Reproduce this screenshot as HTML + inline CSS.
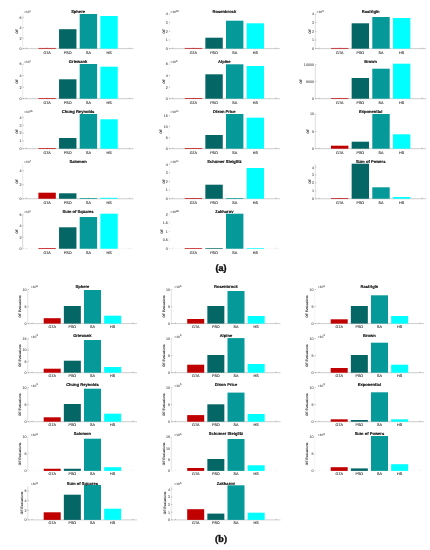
<!DOCTYPE html>
<html><head><meta charset="utf-8"><title>Figure</title>
<style>
html,body{margin:0;padding:0;background:#fff;}
body{width:430px;height:550px;overflow:hidden;position:relative;}
svg{position:absolute;left:0;top:0;display:block;}
svg{text-rendering:geometricPrecision;}
svg text{font-family:"Liberation Sans",sans-serif;font-size:3.7px;fill:#262626;stroke:#262626;stroke-width:0.1px;}
svg text.tk{text-anchor:end;font-size:3.7px;fill:#3a3a3a;stroke:#3a3a3a;stroke-width:0.04px;}
svg text.ex{font-size:3.3px;fill:#3a3a3a;stroke:#3a3a3a;stroke-width:0.04px;}
svg text.ti{text-anchor:middle;font-weight:bold;font-size:4.1px;fill:#000;stroke:#000;stroke-width:0.1px;}
svg text.yl{text-anchor:middle;}
svg text.xl{text-anchor:middle;}
svg text.cap{text-anchor:middle;stroke:#111;stroke-width:0.4px;font-family:"Liberation Serif",serif;font-weight:bold;font-size:9px;fill:#111;}
</style></head><body>
<svg width="430" height="550" viewBox="0 0 430 550">
<rect width="430" height="550" fill="#fff"/>
<g><path d="M22.7 14.05V48.65" fill="none" stroke="#cfcfcf" stroke-width="0.4"/><path d="M22.7 48.65H133.5" fill="none" stroke="#808080" stroke-width="0.4"/><path d="M22.7 48.65h1.1M22.7 38.25h1.1M22.7 27.85h1.1M22.7 17.45h1.1M26.45 48.65v-1.1M47.1 48.65v-1.1M67.75 48.65v-1.1M88.4 48.65v-1.1M109.05 48.65v-1.1M129.7 48.65v-1.1" fill="none" stroke="#555" stroke-width="0.35"/><rect x="38.4" y="47.95" width="17.4" height="0.7" fill="#c00000"/><rect x="59.05" y="29.2" width="17.4" height="19.45" fill="#056666"/><rect x="79.7" y="14" width="17.4" height="34.65" fill="#059999"/><rect x="100.35" y="16" width="17.4" height="32.65" fill="#00ffff"/><text x="47.1" y="54" class="xl">GTA</text><text x="67.75" y="54" class="xl">PSO</text><text x="88.4" y="54" class="xl">SA</text><text x="109.05" y="54" class="xl">HS</text><text x="21.5" y="50" class="tk">0</text><text x="21.5" y="39.6" class="tk">2</text><text x="21.5" y="29.2" class="tk">4</text><text x="21.5" y="18.8" class="tk">6</text><text x="24" y="12.85" class="ex">×10<tspan dy="-1.2" style="font-size:2.6px">7</tspan></text><text x="78.08" y="13" class="ti">Sphere</text><text transform="translate(18.2 31.35) rotate(-90)" class="yl" style="font-size:3.3px">OF</text></g>
<g><path d="M169 14.05V48.65" fill="none" stroke="#ececec" stroke-width="0.4"/><path d="M169 48.65H279.8" fill="none" stroke="#808080" stroke-width="0.4"/><path d="M169 48.65h1.1M169 40h1.1M169 31.35h1.1M169 22.7h1.1M169 14.05h1.1M172.75 48.65v-1.1M193.4 48.65v-1.1M214.05 48.65v-1.1M234.7 48.65v-1.1M255.35 48.65v-1.1M276 48.65v-1.1" fill="none" stroke="#555" stroke-width="0.35"/><rect x="184.7" y="47.95" width="17.4" height="0.7" fill="#c00000"/><rect x="205.35" y="37.7" width="17.4" height="10.95" fill="#056666"/><rect x="226" y="20.7" width="17.4" height="27.95" fill="#059999"/><rect x="246.65" y="23.3" width="17.4" height="25.35" fill="#00ffff"/><text x="193.4" y="54" class="xl">GTA</text><text x="214.05" y="54" class="xl">PSO</text><text x="234.7" y="54" class="xl">SA</text><text x="255.35" y="54" class="xl">HS</text><text x="167.8" y="50" class="tk">0</text><text x="167.8" y="41.35" class="tk">1</text><text x="167.8" y="32.7" class="tk">2</text><text x="167.8" y="24.05" class="tk">3</text><text x="167.8" y="15.4" class="tk">4</text><text x="170.3" y="12.85" class="ex">×10<tspan dy="-1.2" style="font-size:2.6px">23</tspan></text><text x="224.38" y="13" class="ti">Rosenbrock</text><text transform="translate(164.5 31.35) rotate(-90)" class="yl" style="font-size:3.3px">OF</text></g>
<g><path d="M315.3 14.05V48.65" fill="none" stroke="#acacac" stroke-width="0.4"/><path d="M315.3 48.65H426.1" fill="none" stroke="#808080" stroke-width="0.4"/><path d="M315.3 48.65h1.1M315.3 40h1.1M315.3 31.35h1.1M315.3 22.7h1.1M315.3 14.05h1.1M319.05 48.65v-1.1M339.7 48.65v-1.1M360.35 48.65v-1.1M381 48.65v-1.1M401.65 48.65v-1.1M422.3 48.65v-1.1" fill="none" stroke="#555" stroke-width="0.35"/><rect x="331" y="47.95" width="17.4" height="0.7" fill="#c00000"/><rect x="351.65" y="23.3" width="17.4" height="25.35" fill="#056666"/><rect x="372.3" y="17" width="17.4" height="31.65" fill="#059999"/><rect x="392.95" y="18" width="17.4" height="30.65" fill="#00ffff"/><text x="339.7" y="54" class="xl">GTA</text><text x="360.35" y="54" class="xl">PSO</text><text x="381" y="54" class="xl">SA</text><text x="401.65" y="54" class="xl">HS</text><text x="314.1" y="50" class="tk">0</text><text x="314.1" y="41.35" class="tk">1</text><text x="314.1" y="32.7" class="tk">2</text><text x="314.1" y="24.05" class="tk">3</text><text x="314.1" y="15.4" class="tk">4</text><text x="316.6" y="12.85" class="ex">×10<tspan dy="-1.2" style="font-size:2.6px">5</tspan></text><text x="370.68" y="13" class="ti">Rastrigin</text><text transform="translate(310.8 31.35) rotate(-90)" class="yl" style="font-size:3.3px">OF</text></g>
<g><path d="M22.7 64.1V98.7" fill="none" stroke="#cfcfcf" stroke-width="0.4"/><path d="M22.7 98.7H133.5" fill="none" stroke="#808080" stroke-width="0.4"/><path d="M22.7 98.7h1.1M22.7 87.15h1.1M22.7 75.6h1.1M22.7 64.1h1.1M26.45 98.7v-1.1M47.1 98.7v-1.1M67.75 98.7v-1.1M88.4 98.7v-1.1M109.05 98.7v-1.1M129.7 98.7v-1.1" fill="none" stroke="#555" stroke-width="0.35"/><rect x="38.4" y="98" width="17.4" height="0.7" fill="#c00000"/><rect x="59.05" y="79.3" width="17.4" height="19.4" fill="#056666"/><rect x="79.7" y="64" width="17.4" height="34.7" fill="#059999"/><rect x="100.35" y="66.7" width="17.4" height="32" fill="#00ffff"/><text x="47.1" y="104" class="xl">GTA</text><text x="67.75" y="104" class="xl">PSO</text><text x="88.4" y="104" class="xl">SA</text><text x="109.05" y="104" class="xl">HS</text><text x="21.5" y="100.05" class="tk">0</text><text x="21.5" y="88.5" class="tk">2</text><text x="21.5" y="76.95" class="tk">4</text><text x="21.5" y="65.45" class="tk">6</text><text x="24" y="62.9" class="ex">×10<tspan dy="-1.2" style="font-size:2.6px">7</tspan></text><text x="78.08" y="63" class="ti">Griewank</text><text transform="translate(18.2 81.4) rotate(-90)" class="yl" style="font-size:3.3px">OF</text></g>
<g><path d="M169 64.1V98.7" fill="none" stroke="#ececec" stroke-width="0.4"/><path d="M169 98.7H279.8" fill="none" stroke="#808080" stroke-width="0.4"/><path d="M169 98.7h1.1M169 87.15h1.1M169 75.6h1.1M169 64.1h1.1M172.75 98.7v-1.1M193.4 98.7v-1.1M214.05 98.7v-1.1M234.7 98.7v-1.1M255.35 98.7v-1.1M276 98.7v-1.1" fill="none" stroke="#555" stroke-width="0.35"/><rect x="184.7" y="98" width="17.4" height="0.7" fill="#c00000"/><rect x="205.35" y="74.3" width="17.4" height="24.4" fill="#056666"/><rect x="226" y="64.3" width="17.4" height="34.4" fill="#059999"/><rect x="246.65" y="66" width="17.4" height="32.7" fill="#00ffff"/><text x="193.4" y="104" class="xl">GTA</text><text x="214.05" y="104" class="xl">PSO</text><text x="234.7" y="104" class="xl">SA</text><text x="255.35" y="104" class="xl">HS</text><text x="167.8" y="100.05" class="tk">0</text><text x="167.8" y="88.5" class="tk">2</text><text x="167.8" y="76.95" class="tk">4</text><text x="167.8" y="65.45" class="tk">6</text><text x="170.3" y="62.9" class="ex">×10<tspan dy="-1.2" style="font-size:2.6px">5</tspan></text><text x="224.38" y="63" class="ti">Alpine</text><text transform="translate(164.5 81.4) rotate(-90)" class="yl" style="font-size:3.3px">OF</text></g>
<g><path d="M315.3 64.1V98.7" fill="none" stroke="#acacac" stroke-width="0.4"/><path d="M315.3 98.7H426.1" fill="none" stroke="#808080" stroke-width="0.4"/><path d="M315.3 98.7h1.1M315.3 81.7h1.1M315.3 64.7h1.1M319.05 98.7v-1.1M339.7 98.7v-1.1M360.35 98.7v-1.1M381 98.7v-1.1M401.65 98.7v-1.1M422.3 98.7v-1.1" fill="none" stroke="#555" stroke-width="0.35"/><rect x="331" y="98" width="17.4" height="0.7" fill="#c00000"/><rect x="351.65" y="78" width="17.4" height="20.7" fill="#056666"/><rect x="372.3" y="68.7" width="17.4" height="30" fill="#059999"/><rect x="392.95" y="63.7" width="17.4" height="35" fill="#00ffff"/><text x="339.7" y="104" class="xl">GTA</text><text x="360.35" y="104" class="xl">PSO</text><text x="381" y="104" class="xl">SA</text><text x="401.65" y="104" class="xl">HS</text><text x="314.1" y="100.05" class="tk">0</text><text x="314.1" y="83.05" class="tk">5000</text><text x="314.1" y="66.05" class="tk">10000</text><text x="370.68" y="63" class="ti">Brown</text><text transform="translate(301.5 81.4) rotate(-90)" class="yl" style="font-size:3.3px">OF</text></g>
<g><path d="M22.7 114.1V148.7" fill="none" stroke="#cfcfcf" stroke-width="0.4"/><path d="M22.7 148.7H133.5" fill="none" stroke="#808080" stroke-width="0.4"/><path d="M22.7 148.7h1.1M22.7 140.87h1.1M22.7 133.04h1.1M22.7 125.21h1.1M22.7 117.38h1.1M26.45 148.7v-1.1M47.1 148.7v-1.1M67.75 148.7v-1.1M88.4 148.7v-1.1M109.05 148.7v-1.1M129.7 148.7v-1.1" fill="none" stroke="#555" stroke-width="0.35"/><rect x="38.4" y="148" width="17.4" height="0.7" fill="#c00000"/><rect x="59.05" y="138" width="17.4" height="10.7" fill="#056666"/><rect x="79.7" y="114" width="17.4" height="34.7" fill="#059999"/><rect x="100.35" y="119.3" width="17.4" height="29.4" fill="#00ffff"/><text x="47.1" y="154" class="xl">GTA</text><text x="67.75" y="154" class="xl">PSO</text><text x="88.4" y="154" class="xl">SA</text><text x="109.05" y="154" class="xl">HS</text><text x="21.5" y="150.05" class="tk">0</text><text x="21.5" y="142.22" class="tk">1</text><text x="21.5" y="134.39" class="tk">2</text><text x="21.5" y="126.56" class="tk">3</text><text x="21.5" y="118.73" class="tk">4</text><text x="24" y="112.9" class="ex">×10<tspan dy="-1.2" style="font-size:2.6px">15</tspan></text><text x="78.08" y="113" class="ti">Chung Reynolds</text><text transform="translate(18.2 131.4) rotate(-90)" class="yl" style="font-size:3.3px">OF</text></g>
<g><path d="M169 114.1V148.7" fill="none" stroke="#ececec" stroke-width="0.4"/><path d="M169 148.7H279.8" fill="none" stroke="#808080" stroke-width="0.4"/><path d="M169 148.7h1.1M169 137.7h1.1M169 126.7h1.1M169 115.7h1.1M172.75 148.7v-1.1M193.4 148.7v-1.1M214.05 148.7v-1.1M234.7 148.7v-1.1M255.35 148.7v-1.1M276 148.7v-1.1" fill="none" stroke="#555" stroke-width="0.35"/><rect x="184.7" y="148" width="17.4" height="0.7" fill="#c00000"/><rect x="205.35" y="135" width="17.4" height="13.7" fill="#056666"/><rect x="226" y="114" width="17.4" height="34.7" fill="#059999"/><rect x="246.65" y="117.7" width="17.4" height="31" fill="#00ffff"/><text x="193.4" y="154" class="xl">GTA</text><text x="214.05" y="154" class="xl">PSO</text><text x="234.7" y="154" class="xl">SA</text><text x="255.35" y="154" class="xl">HS</text><text x="167.8" y="150.05" class="tk">0</text><text x="167.8" y="139.05" class="tk">5</text><text x="167.8" y="128.05" class="tk">10</text><text x="167.8" y="117.05" class="tk">15</text><text x="170.3" y="112.9" class="ex">×10<tspan dy="-1.2" style="font-size:2.6px">11</tspan></text><text x="224.38" y="113" class="ti">Dixon Price</text><text transform="translate(162.4 131.4) rotate(-90)" class="yl" style="font-size:3.3px">OF</text></g>
<g><path d="M315.3 114.1V148.7" fill="none" stroke="#acacac" stroke-width="0.4"/><path d="M315.3 148.7H426.1" fill="none" stroke="#808080" stroke-width="0.4"/><path d="M315.3 148.7h1.1M315.3 131.4h1.1M315.3 114.1h1.1M319.05 148.7v-1.1M339.7 148.7v-1.1M360.35 148.7v-1.1M381 148.7v-1.1M401.65 148.7v-1.1M422.3 148.7v-1.1" fill="none" stroke="#555" stroke-width="0.35"/><rect x="331" y="145.7" width="17.4" height="3" fill="#c00000"/><rect x="351.65" y="141.7" width="17.4" height="7" fill="#056666"/><rect x="372.3" y="114" width="17.4" height="34.7" fill="#059999"/><rect x="392.95" y="134.3" width="17.4" height="14.4" fill="#00ffff"/><text x="339.7" y="154" class="xl">GTA</text><text x="360.35" y="154" class="xl">PSO</text><text x="381" y="154" class="xl">SA</text><text x="401.65" y="154" class="xl">HS</text><text x="314.1" y="150.05" class="tk">0</text><text x="314.1" y="132.75" class="tk">5</text><text x="314.1" y="115.45" class="tk">10</text><text x="370.68" y="113" class="ti">Exponential</text><text transform="translate(308.7 131.4) rotate(-90)" class="yl" style="font-size:3.3px">OF</text></g>
<g><path d="M22.7 164.15V198.75" fill="none" stroke="#cfcfcf" stroke-width="0.4"/><path d="M22.7 198.75H133.5" fill="none" stroke="#808080" stroke-width="0.4"/><path d="M22.7 198.75h1.1M22.7 184.75h1.1M22.7 170.75h1.1M26.45 198.75v-1.1M47.1 198.75v-1.1M67.75 198.75v-1.1M88.4 198.75v-1.1M109.05 198.75v-1.1M129.7 198.75v-1.1" fill="none" stroke="#555" stroke-width="0.35"/><rect x="38.4" y="192.7" width="17.4" height="6.05" fill="#c00000"/><rect x="59.05" y="193.3" width="17.4" height="5.45" fill="#056666"/><rect x="79.7" y="198.05" width="17.4" height="0.7" fill="#059999"/><rect x="100.35" y="197.8" width="17.4" height="0.95" fill="#00ffff"/><text x="47.1" y="204" class="xl">GTA</text><text x="67.75" y="204" class="xl">PSO</text><text x="88.4" y="204" class="xl">SA</text><text x="109.05" y="204" class="xl">HS</text><text x="21.5" y="200.1" class="tk">0</text><text x="21.5" y="186.1" class="tk">2</text><text x="21.5" y="172.1" class="tk">4</text><text x="24" y="162.95" class="ex">×10<tspan dy="-1.2" style="font-size:2.6px">4</tspan></text><text x="78.08" y="163" class="ti">Salomon</text><text transform="translate(18.2 181.45) rotate(-90)" class="yl" style="font-size:3.3px">OF</text></g>
<g><path d="M169 164.15V198.75" fill="none" stroke="#ececec" stroke-width="0.4"/><path d="M169 198.75H279.8" fill="none" stroke="#808080" stroke-width="0.4"/><path d="M169 198.75h1.1M169 190.1h1.1M169 181.45h1.1M169 172.8h1.1M169 164.15h1.1M172.75 198.75v-1.1M193.4 198.75v-1.1M214.05 198.75v-1.1M234.7 198.75v-1.1M255.35 198.75v-1.1M276 198.75v-1.1" fill="none" stroke="#555" stroke-width="0.35"/><rect x="184.7" y="198.05" width="17.4" height="0.7" fill="#c00000"/><rect x="205.35" y="184.7" width="17.4" height="14.05" fill="#056666"/><rect x="226" y="198.05" width="17.4" height="0.7" fill="#059999"/><rect x="246.65" y="168" width="17.4" height="30.75" fill="#00ffff"/><text x="193.4" y="204" class="xl">GTA</text><text x="214.05" y="204" class="xl">PSO</text><text x="234.7" y="204" class="xl">SA</text><text x="255.35" y="204" class="xl">HS</text><text x="167.8" y="200.1" class="tk">0</text><text x="167.8" y="191.45" class="tk">1</text><text x="167.8" y="182.8" class="tk">2</text><text x="167.8" y="174.15" class="tk">3</text><text x="167.8" y="165.5" class="tk">4</text><text x="170.3" y="162.95" class="ex">×10<tspan dy="-1.2" style="font-size:2.6px">11</tspan></text><text x="224.38" y="163" class="ti">Schumer Steiglitz</text><text transform="translate(164.5 181.45) rotate(-90)" class="yl" style="font-size:3.3px">OF</text></g>
<g><path d="M315.3 164.15V198.75" fill="none" stroke="#acacac" stroke-width="0.4"/><path d="M315.3 198.75H426.1" fill="none" stroke="#808080" stroke-width="0.4"/><path d="M315.3 198.75h1.1M315.3 190.85h1.1M315.3 182.95h1.1M315.3 175.05h1.1M315.3 167.15h1.1M319.05 198.75v-1.1M339.7 198.75v-1.1M360.35 198.75v-1.1M381 198.75v-1.1M401.65 198.75v-1.1M422.3 198.75v-1.1" fill="none" stroke="#555" stroke-width="0.35"/><rect x="331" y="198.05" width="17.4" height="0.7" fill="#c00000"/><rect x="351.65" y="163.7" width="17.4" height="35.05" fill="#056666"/><rect x="372.3" y="187.3" width="17.4" height="11.45" fill="#059999"/><rect x="392.95" y="197" width="17.4" height="1.75" fill="#00ffff"/><text x="339.7" y="204" class="xl">GTA</text><text x="360.35" y="204" class="xl">PSO</text><text x="381" y="204" class="xl">SA</text><text x="401.65" y="204" class="xl">HS</text><text x="314.1" y="200.1" class="tk">0</text><text x="314.1" y="192.2" class="tk">1</text><text x="314.1" y="184.3" class="tk">2</text><text x="314.1" y="176.4" class="tk">3</text><text x="314.1" y="168.5" class="tk">4</text><text x="370.68" y="163" class="ti">Sum of Powers</text><text transform="translate(310.8 181.45) rotate(-90)" class="yl" style="font-size:3.3px">OF</text></g>
<g><path d="M22.7 214.15V248.75" fill="none" stroke="#a0a0a0" stroke-width="0.4"/><path d="M22.7 248.75H133.5" fill="none" stroke="#ebebeb" stroke-width="0.4"/><path d="M22.7 248.75h1.1M22.7 237.2h1.1M22.7 225.65h1.1M22.7 214.15h1.1M26.45 248.75v-1.1M47.1 248.75v-1.1M67.75 248.75v-1.1M88.4 248.75v-1.1M109.05 248.75v-1.1M129.7 248.75v-1.1" fill="none" stroke="#999" stroke-width="0.35"/><rect x="38.4" y="248" width="17.4" height="0.75" fill="#c00000"/><rect x="59.05" y="227.3" width="17.4" height="21.45" fill="#056666"/><rect x="79.7" y="217" width="17.4" height="31.75" fill="#059999"/><rect x="100.35" y="213.7" width="17.4" height="35.05" fill="#00ffff"/><text x="47.1" y="254" class="xl">GTA</text><text x="67.75" y="254" class="xl">PSO</text><text x="88.4" y="254" class="xl">SA</text><text x="109.05" y="254" class="xl">HS</text><text x="21.5" y="250.1" class="tk">0</text><text x="21.5" y="238.55" class="tk">2</text><text x="21.5" y="227" class="tk">4</text><text x="21.5" y="215.5" class="tk">6</text><text x="24" y="212.95" class="ex">×10<tspan dy="-1.2" style="font-size:2.6px">7</tspan></text><text x="78.08" y="213" class="ti">Sum of Squares</text><text transform="translate(18.2 231.45) rotate(-90)" class="yl" style="font-size:3.3px">OF</text></g>
<g><path d="M169 214.15V248.75" fill="none" stroke="#ececec" stroke-width="0.4"/><path d="M169 248.75H279.8" fill="none" stroke="#ebebeb" stroke-width="0.4"/><path d="M169 248.75h1.1M169 240.1h1.1M169 231.45h1.1M169 222.8h1.1M169 214.15h1.1M172.75 248.75v-1.1M193.4 248.75v-1.1M214.05 248.75v-1.1M234.7 248.75v-1.1M255.35 248.75v-1.1M276 248.75v-1.1" fill="none" stroke="#999" stroke-width="0.35"/><rect x="184.7" y="248.05" width="17.4" height="0.7" fill="#c00000"/><rect x="205.35" y="248.05" width="17.4" height="0.7" fill="#056666"/><rect x="226" y="213.7" width="17.4" height="35.05" fill="#059999"/><rect x="246.65" y="248.05" width="17.4" height="0.7" fill="#00ffff"/><text x="193.4" y="254" class="xl">GTA</text><text x="214.05" y="254" class="xl">PSO</text><text x="234.7" y="254" class="xl">SA</text><text x="255.35" y="254" class="xl">HS</text><text x="167.8" y="250.1" class="tk">0</text><text x="167.8" y="241.45" class="tk">0.5</text><text x="167.8" y="232.8" class="tk">1</text><text x="167.8" y="224.15" class="tk">1.5</text><text x="167.8" y="215.5" class="tk">2</text><text x="170.3" y="212.95" class="ex">×10<tspan dy="-1.2" style="font-size:2.6px">28</tspan></text><text x="224.38" y="213" class="ti">Zakharov</text><text transform="translate(162.8 231.45) rotate(-90)" class="yl" style="font-size:3.3px">OF</text></g>
<g><path d="M27.8 289.6V323.6" fill="none" stroke="#b0b0b0" stroke-width="0.4"/><path d="M27.8 323.6H137" fill="none" stroke="#808080" stroke-width="0.4"/><path d="M27.8 323.6h1.1M27.8 306.6h1.1M27.8 289.6h1.1M32.05 323.6v-1.1M52.2 323.6v-1.1M72.35 323.6v-1.1M92.5 323.6v-1.1M112.65 323.6v-1.1M132.8 323.6v-1.1" fill="none" stroke="#555" stroke-width="0.35"/><rect x="43.7" y="318.2" width="17" height="5.4" fill="#c00000"/><rect x="63.85" y="306" width="17" height="17.6" fill="#056666"/><rect x="84" y="290" width="17" height="33.6" fill="#059999"/><rect x="104.15" y="315.7" width="17" height="7.9" fill="#00ffff"/><text x="52.2" y="328" class="xl">GTA</text><text x="72.35" y="328" class="xl">PSO</text><text x="92.5" y="328" class="xl">SA</text><text x="112.65" y="328" class="xl">HS</text><text x="26.6" y="324.95" class="tk">0</text><text x="26.6" y="307.95" class="tk">5</text><text x="26.6" y="290.95" class="tk">10</text><text x="30.8" y="288.4" class="ex">×10<tspan dy="-1.2" style="font-size:2.6px">5</tspan></text><text x="82.42" y="288" class="ti">Sphere</text><text transform="translate(21.3 306.6) rotate(-90)" class="yl" style="font-size:3.3px">OF Evaluations</text></g>
<g><path d="M171.3 289.6V323.6" fill="none" stroke="#b8b8b8" stroke-width="0.4"/><path d="M171.3 323.6H280.5" fill="none" stroke="#808080" stroke-width="0.4"/><path d="M171.3 323.6h1.1M171.3 306.6h1.1M171.3 289.6h1.1M175.55 323.6v-1.1M195.7 323.6v-1.1M215.85 323.6v-1.1M236 323.6v-1.1M256.15 323.6v-1.1M276.3 323.6v-1.1" fill="none" stroke="#555" stroke-width="0.35"/><rect x="187.2" y="319" width="17" height="4.6" fill="#c00000"/><rect x="207.35" y="306" width="17" height="17.6" fill="#056666"/><rect x="227.5" y="291" width="17" height="32.6" fill="#059999"/><rect x="247.65" y="316" width="17" height="7.6" fill="#00ffff"/><text x="195.7" y="328" class="xl">GTA</text><text x="215.85" y="328" class="xl">PSO</text><text x="236" y="328" class="xl">SA</text><text x="256.15" y="328" class="xl">HS</text><text x="170.1" y="324.95" class="tk">0</text><text x="170.1" y="307.95" class="tk">5</text><text x="170.1" y="290.95" class="tk">10</text><text x="174.3" y="288.4" class="ex">×10<tspan dy="-1.2" style="font-size:2.6px">5</tspan></text><text x="225.92" y="288" class="ti">Rosenbrock</text><text transform="translate(164.8 306.6) rotate(-90)" class="yl" style="font-size:3.3px">OF Evaluations</text></g>
<g><path d="M314.8 289.6V323.6" fill="none" stroke="#e2e2e2" stroke-width="0.4"/><path d="M314.8 323.6H424" fill="none" stroke="#808080" stroke-width="0.4"/><path d="M314.8 323.6h1.1M314.8 306.6h1.1M314.8 289.6h1.1M319.05 323.6v-1.1M339.2 323.6v-1.1M359.35 323.6v-1.1M379.5 323.6v-1.1M399.65 323.6v-1.1M419.8 323.6v-1.1" fill="none" stroke="#555" stroke-width="0.35"/><rect x="330.7" y="319.3" width="17" height="4.3" fill="#c00000"/><rect x="350.85" y="306" width="17" height="17.6" fill="#056666"/><rect x="371" y="295.3" width="17" height="28.3" fill="#059999"/><rect x="391.15" y="316" width="17" height="7.6" fill="#00ffff"/><text x="339.2" y="328" class="xl">GTA</text><text x="359.35" y="328" class="xl">PSO</text><text x="379.5" y="328" class="xl">SA</text><text x="399.65" y="328" class="xl">HS</text><text x="313.6" y="324.95" class="tk">0</text><text x="313.6" y="307.95" class="tk">5</text><text x="313.6" y="290.95" class="tk">10</text><text x="317.8" y="288.4" class="ex">×10<tspan dy="-1.2" style="font-size:2.6px">5</tspan></text><text x="369.43" y="288" class="ti">Rastrigin</text><text transform="translate(308.3 306.6) rotate(-90)" class="yl" style="font-size:3.3px">OF Evaluations</text></g>
<g><path d="M27.8 338.7V372.7" fill="none" stroke="#b0b0b0" stroke-width="0.4"/><path d="M27.8 372.7H137" fill="none" stroke="#808080" stroke-width="0.4"/><path d="M27.8 372.7h1.1M27.8 361.35h1.1M27.8 350h1.1M27.8 338.65h1.1M32.05 372.7v-1.1M52.2 372.7v-1.1M72.35 372.7v-1.1M92.5 372.7v-1.1M112.65 372.7v-1.1M132.8 372.7v-1.1" fill="none" stroke="#555" stroke-width="0.35"/><rect x="43.7" y="368.7" width="17" height="4" fill="#c00000"/><rect x="63.85" y="360.7" width="17" height="12" fill="#056666"/><rect x="84" y="340" width="17" height="32.7" fill="#059999"/><rect x="104.15" y="367" width="17" height="5.7" fill="#00ffff"/><text x="52.2" y="377" class="xl">GTA</text><text x="72.35" y="377" class="xl">PSO</text><text x="92.5" y="377" class="xl">SA</text><text x="112.65" y="377" class="xl">HS</text><text x="26.6" y="374.05" class="tk">0</text><text x="26.6" y="362.7" class="tk">5</text><text x="26.6" y="351.35" class="tk">10</text><text x="26.6" y="340" class="tk">15</text><text x="30.8" y="337.5" class="ex">×10<tspan dy="-1.2" style="font-size:2.6px">5</tspan></text><text x="82.42" y="337" class="ti">Griewank</text><text transform="translate(21.3 355.7) rotate(-90)" class="yl" style="font-size:3.3px">OF Evaluations</text></g>
<g><path d="M171.3 338.7V372.7" fill="none" stroke="#b8b8b8" stroke-width="0.4"/><path d="M171.3 372.7H280.5" fill="none" stroke="#808080" stroke-width="0.4"/><path d="M171.3 372.7h1.1M171.3 355.7h1.1M171.3 338.7h1.1M175.55 372.7v-1.1M195.7 372.7v-1.1M215.85 372.7v-1.1M236 372.7v-1.1M256.15 372.7v-1.1M276.3 372.7v-1.1" fill="none" stroke="#555" stroke-width="0.35"/><rect x="187.2" y="364.7" width="17" height="8" fill="#c00000"/><rect x="207.35" y="355" width="17" height="17.7" fill="#056666"/><rect x="227.5" y="338.1" width="17" height="34.6" fill="#059999"/><rect x="247.65" y="364" width="17" height="8.7" fill="#00ffff"/><text x="195.7" y="377" class="xl">GTA</text><text x="215.85" y="377" class="xl">PSO</text><text x="236" y="377" class="xl">SA</text><text x="256.15" y="377" class="xl">HS</text><text x="170.1" y="374.05" class="tk">0</text><text x="170.1" y="357.05" class="tk">5</text><text x="170.1" y="340.05" class="tk">10</text><text x="174.3" y="337.5" class="ex">×10<tspan dy="-1.2" style="font-size:2.6px">5</tspan></text><text x="225.92" y="337" class="ti">Alpine</text><text transform="translate(164.8 355.7) rotate(-90)" class="yl" style="font-size:3.3px">OF Evaluations</text></g>
<g><path d="M314.8 338.7V372.7" fill="none" stroke="#e2e2e2" stroke-width="0.4"/><path d="M314.8 372.7H424" fill="none" stroke="#808080" stroke-width="0.4"/><path d="M314.8 372.7h1.1M314.8 355.7h1.1M314.8 338.7h1.1M319.05 372.7v-1.1M339.2 372.7v-1.1M359.35 372.7v-1.1M379.5 372.7v-1.1M399.65 372.7v-1.1M419.8 372.7v-1.1" fill="none" stroke="#555" stroke-width="0.35"/><rect x="330.7" y="368" width="17" height="4.7" fill="#c00000"/><rect x="350.85" y="355" width="17" height="17.7" fill="#056666"/><rect x="371" y="342.7" width="17" height="30" fill="#059999"/><rect x="391.15" y="364.7" width="17" height="8" fill="#00ffff"/><text x="339.2" y="377" class="xl">GTA</text><text x="359.35" y="377" class="xl">PSO</text><text x="379.5" y="377" class="xl">SA</text><text x="399.65" y="377" class="xl">HS</text><text x="313.6" y="374.05" class="tk">0</text><text x="313.6" y="357.05" class="tk">5</text><text x="313.6" y="340.05" class="tk">10</text><text x="317.8" y="337.5" class="ex">×10<tspan dy="-1.2" style="font-size:2.6px">5</tspan></text><text x="369.43" y="337" class="ti">Brown</text><text transform="translate(308.3 355.7) rotate(-90)" class="yl" style="font-size:3.3px">OF Evaluations</text></g>
<g><path d="M27.8 387.7V421.7" fill="none" stroke="#b0b0b0" stroke-width="0.4"/><path d="M27.8 421.7H137" fill="none" stroke="#808080" stroke-width="0.4"/><path d="M27.8 421.7h1.1M27.8 404.7h1.1M27.8 387.7h1.1M32.05 421.7v-1.1M52.2 421.7v-1.1M72.35 421.7v-1.1M92.5 421.7v-1.1M112.65 421.7v-1.1M132.8 421.7v-1.1" fill="none" stroke="#555" stroke-width="0.35"/><rect x="43.7" y="417.3" width="17" height="4.4" fill="#c00000"/><rect x="63.85" y="404" width="17" height="17.7" fill="#056666"/><rect x="84" y="388.7" width="17" height="33" fill="#059999"/><rect x="104.15" y="413.7" width="17" height="8" fill="#00ffff"/><text x="52.2" y="426" class="xl">GTA</text><text x="72.35" y="426" class="xl">PSO</text><text x="92.5" y="426" class="xl">SA</text><text x="112.65" y="426" class="xl">HS</text><text x="26.6" y="423.05" class="tk">0</text><text x="26.6" y="406.05" class="tk">5</text><text x="26.6" y="389.05" class="tk">10</text><text x="30.8" y="386.5" class="ex">×10<tspan dy="-1.2" style="font-size:2.6px">5</tspan></text><text x="82.42" y="386" class="ti">Chung Reynolds</text><text transform="translate(21.3 404.7) rotate(-90)" class="yl" style="font-size:3.3px">OF Evaluations</text></g>
<g><path d="M171.3 387.7V421.7" fill="none" stroke="#b8b8b8" stroke-width="0.4"/><path d="M171.3 421.7H280.5" fill="none" stroke="#808080" stroke-width="0.4"/><path d="M171.3 421.7h1.1M171.3 404.7h1.1M171.3 387.7h1.1M175.55 421.7v-1.1M195.7 421.7v-1.1M215.85 421.7v-1.1M236 421.7v-1.1M256.15 421.7v-1.1M276.3 421.7v-1.1" fill="none" stroke="#555" stroke-width="0.35"/><rect x="187.2" y="415.1" width="17" height="6.6" fill="#c00000"/><rect x="207.35" y="404.3" width="17" height="17.4" fill="#056666"/><rect x="227.5" y="392.6" width="17" height="29.1" fill="#059999"/><rect x="247.65" y="414" width="17" height="7.7" fill="#00ffff"/><text x="195.7" y="426" class="xl">GTA</text><text x="215.85" y="426" class="xl">PSO</text><text x="236" y="426" class="xl">SA</text><text x="256.15" y="426" class="xl">HS</text><text x="170.1" y="423.05" class="tk">0</text><text x="170.1" y="406.05" class="tk">5</text><text x="170.1" y="389.05" class="tk">10</text><text x="174.3" y="386.5" class="ex">×10<tspan dy="-1.2" style="font-size:2.6px">5</tspan></text><text x="225.92" y="386" class="ti">Dixon Price</text><text transform="translate(164.8 404.7) rotate(-90)" class="yl" style="font-size:3.3px">OF Evaluations</text></g>
<g><path d="M314.8 387.7V421.7" fill="none" stroke="#e2e2e2" stroke-width="0.4"/><path d="M314.8 421.7H424" fill="none" stroke="#808080" stroke-width="0.4"/><path d="M314.8 421.7h1.1M314.8 404.7h1.1M314.8 387.7h1.1M319.05 421.7v-1.1M339.2 421.7v-1.1M359.35 421.7v-1.1M379.5 421.7v-1.1M399.65 421.7v-1.1M419.8 421.7v-1.1" fill="none" stroke="#555" stroke-width="0.35"/><rect x="330.7" y="419.3" width="17" height="2.4" fill="#c00000"/><rect x="350.85" y="420" width="17" height="1.7" fill="#056666"/><rect x="371" y="392.3" width="17" height="29.4" fill="#059999"/><rect x="391.15" y="419.3" width="17" height="2.4" fill="#00ffff"/><text x="339.2" y="426" class="xl">GTA</text><text x="359.35" y="426" class="xl">PSO</text><text x="379.5" y="426" class="xl">SA</text><text x="399.65" y="426" class="xl">HS</text><text x="313.6" y="423.05" class="tk">0</text><text x="313.6" y="406.05" class="tk">5</text><text x="313.6" y="389.05" class="tk">10</text><text x="317.8" y="386.5" class="ex">×10<tspan dy="-1.2" style="font-size:2.6px">5</tspan></text><text x="369.43" y="386" class="ti">Exponential</text><text transform="translate(308.3 404.7) rotate(-90)" class="yl" style="font-size:3.3px">OF Evaluations</text></g>
<g><path d="M27.8 436.9V470.9" fill="none" stroke="#b0b0b0" stroke-width="0.4"/><path d="M27.8 470.9H137" fill="none" stroke="#f4f4f4" stroke-width="0.4"/><path d="M27.8 470.9h1.1M27.8 453.9h1.1M27.8 436.9h1.1M32.05 470.9v-1.1M52.2 470.9v-1.1M72.35 470.9v-1.1M92.5 470.9v-1.1M112.65 470.9v-1.1M132.8 470.9v-1.1" fill="none" stroke="#c8c8c8" stroke-width="0.35"/><rect x="43.7" y="468.75" width="17" height="2.15" fill="#c00000"/><rect x="63.85" y="468.75" width="17" height="2.15" fill="#056666"/><rect x="84" y="438.7" width="17" height="32.2" fill="#059999"/><rect x="104.15" y="467.2" width="17" height="3.7" fill="#00ffff"/><text x="52.2" y="475" class="xl">GTA</text><text x="72.35" y="475" class="xl">PSO</text><text x="92.5" y="475" class="xl">SA</text><text x="112.65" y="475" class="xl">HS</text><text x="26.6" y="472.25" class="tk">0</text><text x="26.6" y="455.25" class="tk">5</text><text x="26.6" y="438.25" class="tk">10</text><text x="30.8" y="435.7" class="ex">×10<tspan dy="-1.2" style="font-size:2.6px">5</tspan></text><text x="82.42" y="435" class="ti">Salomon</text><text transform="translate(21.3 453.9) rotate(-90)" class="yl" style="font-size:3.3px">OF Evaluations</text></g>
<g><path d="M171.3 436.9V470.9" fill="none" stroke="#b8b8b8" stroke-width="0.4"/><path d="M171.3 470.9H280.5" fill="none" stroke="#f4f4f4" stroke-width="0.4"/><path d="M171.3 470.9h1.1M171.3 459.55h1.1M171.3 448.2h1.1M171.3 436.85h1.1M175.55 470.9v-1.1M195.7 470.9v-1.1M215.85 470.9v-1.1M236 470.9v-1.1M256.15 470.9v-1.1M276.3 470.9v-1.1" fill="none" stroke="#c8c8c8" stroke-width="0.35"/><rect x="187.2" y="468" width="17" height="2.9" fill="#c00000"/><rect x="207.35" y="459" width="17" height="11.9" fill="#056666"/><rect x="227.5" y="439" width="17" height="31.9" fill="#059999"/><rect x="247.65" y="465.3" width="17" height="5.6" fill="#00ffff"/><text x="195.7" y="475" class="xl">GTA</text><text x="215.85" y="475" class="xl">PSO</text><text x="236" y="475" class="xl">SA</text><text x="256.15" y="475" class="xl">HS</text><text x="170.1" y="472.25" class="tk">0</text><text x="170.1" y="460.9" class="tk">5</text><text x="170.1" y="449.55" class="tk">10</text><text x="170.1" y="438.2" class="tk">15</text><text x="174.3" y="435.7" class="ex">×10<tspan dy="-1.2" style="font-size:2.6px">5</tspan></text><text x="225.92" y="435" class="ti">Schumer Steiglitz</text><text transform="translate(164.8 453.9) rotate(-90)" class="yl" style="font-size:3.3px">OF Evaluations</text></g>
<g><path d="M314.8 436.9V470.9" fill="none" stroke="#e2e2e2" stroke-width="0.4"/><path d="M314.8 470.9H424" fill="none" stroke="#f4f4f4" stroke-width="0.4"/><path d="M314.8 470.9h1.1M314.8 453.9h1.1M314.8 436.9h1.1M319.05 470.9v-1.1M339.2 470.9v-1.1M359.35 470.9v-1.1M379.5 470.9v-1.1M399.65 470.9v-1.1M419.8 470.9v-1.1" fill="none" stroke="#c8c8c8" stroke-width="0.35"/><rect x="330.7" y="467.2" width="17" height="3.7" fill="#c00000"/><rect x="350.85" y="468.4" width="17" height="2.5" fill="#056666"/><rect x="371" y="436" width="17" height="34.9" fill="#059999"/><rect x="391.15" y="464.2" width="17" height="6.7" fill="#00ffff"/><text x="339.2" y="475" class="xl">GTA</text><text x="359.35" y="475" class="xl">PSO</text><text x="379.5" y="475" class="xl">SA</text><text x="399.65" y="475" class="xl">HS</text><text x="313.6" y="472.25" class="tk">0</text><text x="313.6" y="455.25" class="tk">5</text><text x="313.6" y="438.25" class="tk">10</text><text x="317.8" y="435.7" class="ex">×10<tspan dy="-1.2" style="font-size:2.6px">5</tspan></text><text x="369.43" y="435" class="ti">Sum of Powers</text><text transform="translate(308.3 453.9) rotate(-90)" class="yl" style="font-size:3.3px">OF Evaluations</text></g>
<g><path d="M27.8 485.9V519.9" fill="none" stroke="#b0b0b0" stroke-width="0.4"/><path d="M27.8 519.9H137" fill="none" stroke="#808080" stroke-width="0.4"/><path d="M27.8 519.9h1.1M27.8 510.2h1.1M27.8 500.5h1.1M27.8 490.8h1.1M32.05 519.9v-1.1M52.2 519.9v-1.1M72.35 519.9v-1.1M92.5 519.9v-1.1M112.65 519.9v-1.1M132.8 519.9v-1.1" fill="none" stroke="#555" stroke-width="0.35"/><rect x="43.7" y="512.3" width="17" height="7.6" fill="#c00000"/><rect x="63.85" y="494.7" width="17" height="25.2" fill="#056666"/><rect x="84" y="485" width="17" height="34.9" fill="#059999"/><rect x="104.15" y="508.7" width="17" height="11.2" fill="#00ffff"/><text x="52.2" y="524" class="xl">GTA</text><text x="72.35" y="524" class="xl">PSO</text><text x="92.5" y="524" class="xl">SA</text><text x="112.65" y="524" class="xl">HS</text><text x="26.6" y="521.25" class="tk">0</text><text x="26.6" y="511.55" class="tk">2</text><text x="26.6" y="501.85" class="tk">4</text><text x="26.6" y="492.15" class="tk">6</text><text x="30.8" y="484.7" class="ex">×10<tspan dy="-1.2" style="font-size:2.6px">5</tspan></text><text x="82.42" y="485" class="ti">Sum of Squares</text><text transform="translate(22.8 502.9) rotate(-90)" class="yl" style="font-size:3.3px">OF Evaluations</text></g>
<g><path d="M171.3 485.9V519.9" fill="none" stroke="#b8b8b8" stroke-width="0.4"/><path d="M171.3 519.9H280.5" fill="none" stroke="#808080" stroke-width="0.4"/><path d="M171.3 519.9h1.1M171.3 512.22h1.1M171.3 504.54h1.1M171.3 496.86h1.1M171.3 489.18h1.1M175.55 519.9v-1.1M195.7 519.9v-1.1M215.85 519.9v-1.1M236 519.9v-1.1M256.15 519.9v-1.1M276.3 519.9v-1.1" fill="none" stroke="#555" stroke-width="0.35"/><rect x="187.2" y="509.2" width="17" height="10.7" fill="#c00000"/><rect x="207.35" y="513.6" width="17" height="6.3" fill="#056666"/><rect x="227.5" y="485.3" width="17" height="34.6" fill="#059999"/><rect x="247.65" y="512.7" width="17" height="7.2" fill="#00ffff"/><text x="195.7" y="524" class="xl">GTA</text><text x="215.85" y="524" class="xl">PSO</text><text x="236" y="524" class="xl">SA</text><text x="256.15" y="524" class="xl">HS</text><text x="170.1" y="521.25" class="tk">0</text><text x="170.1" y="513.57" class="tk">1</text><text x="170.1" y="505.89" class="tk">2</text><text x="170.1" y="498.21" class="tk">3</text><text x="170.1" y="490.53" class="tk">4</text><text x="174.3" y="484.7" class="ex">×10<tspan dy="-1.2" style="font-size:2.6px">5</tspan></text><text x="225.92" y="485" class="ti">Zakharov</text><text transform="translate(166.3 502.9) rotate(-90)" class="yl" style="font-size:3.3px">OF Evaluations</text></g>
<text class="cap" style="font-family:'Liberation Sans',sans-serif;font-size:9px" x="221" y="270.8">(a)</text>
<text class="cap" style="font-size:10px" x="221" y="541.8">(b)</text>
</svg>
</body></html>
